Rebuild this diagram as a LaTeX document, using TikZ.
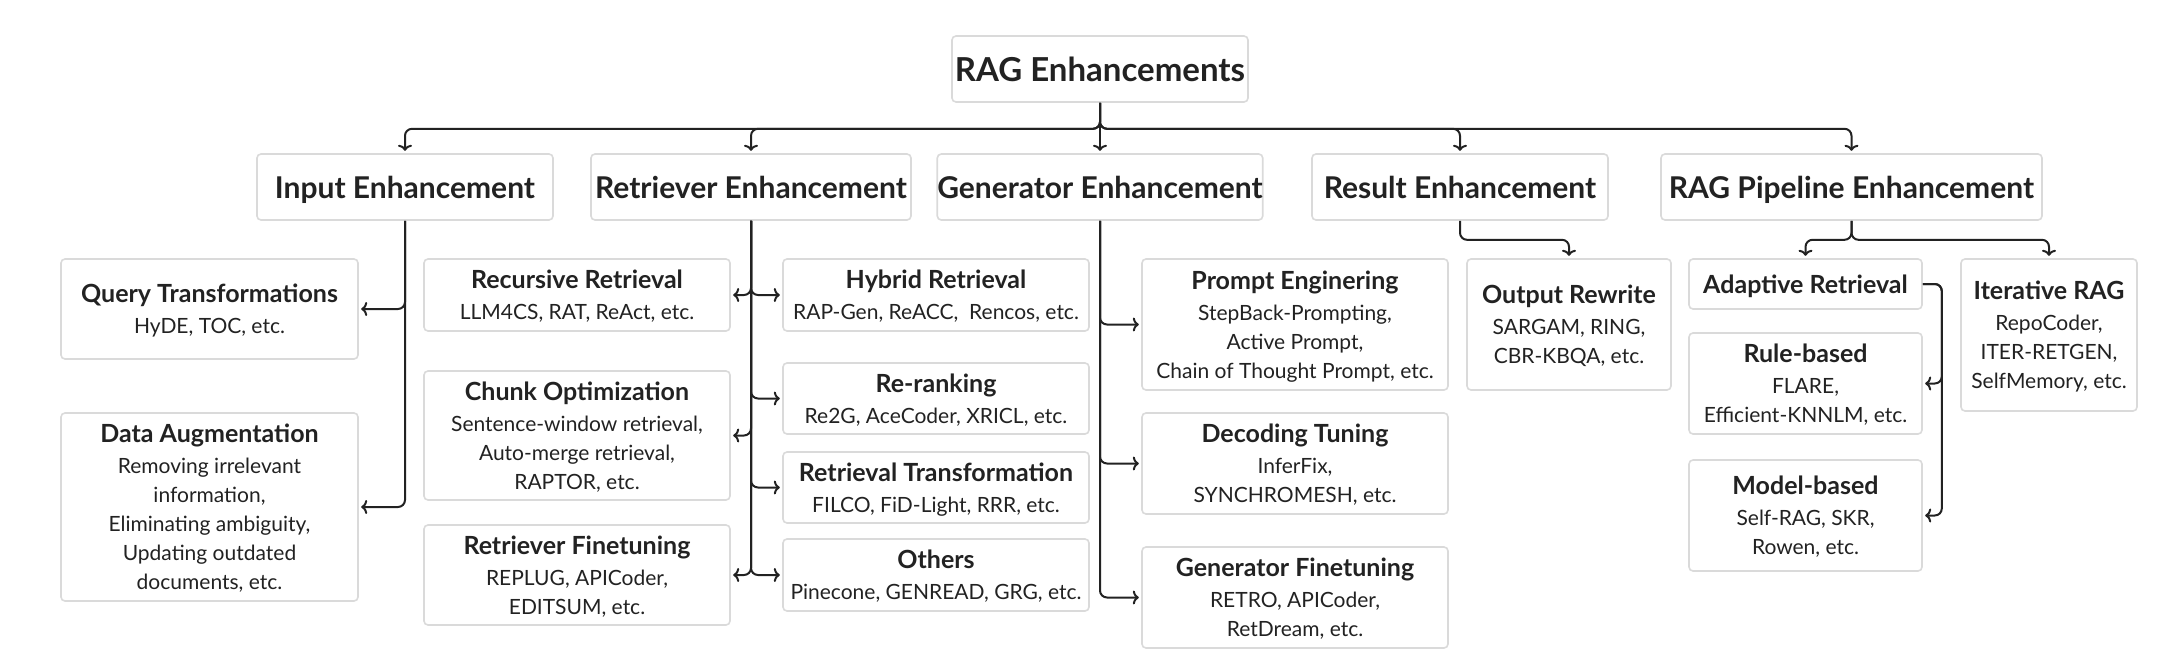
\documentclass[tikz,border=0pt]{standalone}
\usepackage{fontspec}
\setmainfont{Lato}
\usepackage{tikz}
\usetikzlibrary{arrows.meta}
\definecolor{inkdark}{RGB}{34, 34, 34}
\definecolor{boxborder}{RGB}{218, 218, 218}
\newcommand{\subhead}[1]{{\fontsize{12.5pt}{15pt}\selectfont\bfseries #1}}
\tikzset{
  baseblock/.style={
    rectangle, rounded corners=2pt, line width=0.8pt,
    draw=boxborder, fill=white, text=inkdark, inner sep=0pt,
    text depth=-2.5pt, align=center, font=\fontsize{10.5pt}{14.5pt}\selectfont
  },
  rootblock/.style={baseblock, minimum width=148pt, minimum height=33pt,
    font=\fontsize{16.5pt}{20pt}\selectfont\bfseries},
  mainblock/.style={baseblock, minimum height=33pt,
    font=\fontsize{15pt}{18pt}\selectfont\bfseries},
  subblock/.style={baseblock, minimum width=153pt},
  flowline/.style={
    draw=inkdark, line width=1pt, rounded corners=3.5pt,
    -{To[length=3pt, width=7pt]}, shorten >=1.2pt
  }
}

\begin{document}
\begin{tikzpicture}[x=0.5pt, y=-0.5pt]
  \useasboundingbox (0,0) rectangle (2180,664);

  % top level
  \node[rootblock] (root) at (1100,69) {RAG Enhancements};

  \node[mainblock, minimum width=148pt] (input) at (405,187) {Input Enhancement};
  \node[mainblock, minimum width=160pt] (retr) at (751,187) {Retriever Enhancement};
  \node[mainblock, minimum width=160pt] (gen) at (1100,187) {Generator Enhancement};
  \node[mainblock, minimum width=148pt] (result) at (1460,187) {Result Enhancement};
  \node[mainblock, minimum width=190.5pt] (pipe) at (1851.5,187) {RAG Pipeline Enhancement};

  % input enhancement
  \node[subblock, minimum width=148.5pt, minimum height=50pt] (query) at (209.5,309) {\subhead{Query Transformations}\\[1pt]HyDE, TOC, etc.};
  \node[subblock, minimum width=148.5pt, minimum height=94pt] (augment) at (209.5,507) {\subhead{Data Augmentation}\\[1pt]Removing irrelevant\\information,\\Eliminating ambiguity,\\Updating outdated\\documents, etc.};

  % retriever enhancement
  \node[subblock, minimum height=36pt] (recursive) at (577,295) {\subhead{Recursive Retrieval}\\[1pt]LLM4CS, RAT, ReAct, etc.};
  \node[subblock, minimum height=64.5pt] (chunk) at (577,435.5) {\subhead{Chunk Optimization}\\[1pt]Sentence-window retrieval,\\Auto-merge retrieval,\\RAPTOR, etc.};
  \node[subblock, minimum height=50pt] (retrtune) at (577,575) {\subhead{Retriever Finetuning}\\[1pt]REPLUG, APICoder,\\EDITSUM, etc.};
  \node[subblock, minimum height=36pt] (hybrid) at (936,295) {\subhead{Hybrid Retrieval}\\[1pt]RAP-Gen, ReACC,~ Rencos, etc.};
  \node[subblock, minimum height=35.5pt] (rerank) at (936,398.5) {\subhead{Re-ranking}\\[1pt]Re2G, AceCoder, XRICL, etc.};
  \node[subblock, minimum height=35.5pt] (rtrans) at (936,487.5) {\subhead{Retrieval Transformation}\\[1pt]FILCO, FiD-Light, RRR, etc.};
  \node[subblock, minimum height=36pt] (others) at (936,575) {\subhead{Others}\\[1pt]Pinecone, GENREAD, GRG, etc.};

  % generator enhancement
  \node[subblock, minimum height=65.5pt] (prompt) at (1295,324.5) {\subhead{Prompt Enginering}\\[1pt]StepBack-Prompting,\\Active Prompt,\\Chain of Thought Prompt, etc.};
  \node[subblock, minimum height=50.5pt] (decoding) at (1295,463.5) {\subhead{Decoding Tuning}\\[1pt]InferFix,\\SYNCHROMESH, etc.};
  \node[subblock, minimum height=50.5pt] (gentune) at (1295,597.5) {\subhead{Generator Finetuning}\\[1pt]RETRO, APICoder,\\RetDream, etc.};

  % result enhancement
  \node[subblock, minimum width=102pt, minimum height=65.5pt] (rewrite) at (1569,324.5) {\subhead{Output Rewrite}\\[1pt]SARGAM, RING,\\CBR-KBQA, etc.};

  % pipeline enhancement
  \node[subblock, minimum width=116.5pt, minimum height=25pt] (adaptive) at (1805.5,284) {\subhead{Adaptive Retrieval}};
  \node[subblock, minimum width=116.5pt, minimum height=50.5pt] (rule) at (1805.5,383.5) {\subhead{Rule-based}\\[1pt]FLARE,\\Efficient-KNNLM, etc.};
  \node[subblock, minimum width=116.5pt, minimum height=55.5pt] (model) at (1805.5,515.5) {\subhead{Model-based}\\[1pt]Self-RAG, SKR,\\Rowen, etc.};
  \node[subblock, minimum width=88pt, minimum height=76pt] (iter) at (2049,335) {\subhead{Iterative RAG}\\[1pt]RepoCoder,\\ITER-RETGEN,\\SelfMemory, etc.};

  % connectors
  \foreach \child in {input, retr, gen, result, pipe}
    \draw[flowline] (root.south) -- ++(0,26) -| (\child.north);

  \draw[flowline] (input.south) |- (query.east);
  \draw[flowline] (input.south) |- (augment.east);

  \foreach \child in {recursive, chunk, retrtune}
    \draw[flowline] (retr.south) |- (\child.east);
  \foreach \child in {hybrid, rerank, rtrans, others}
    \draw[flowline] (retr.south) |- (\child.west);

  \foreach \child in {prompt, decoding, gentune}
    \draw[flowline] (gen.south) |- (\child.west);

  \draw[flowline] (result.south) -- ++(0,19) -| (rewrite.north);

  \draw[flowline] (pipe.south) -- ++(0,19) -| (adaptive.north);
  \draw[flowline] (pipe.south) -- ++(0,19) -| (iter.north);

  \draw[flowline] (adaptive.east) -- ++(19,0) |- (rule.east);
  \draw[flowline] (adaptive.east) -- ++(19,0) |- (model.east);
\end{tikzpicture}
\end{document}
